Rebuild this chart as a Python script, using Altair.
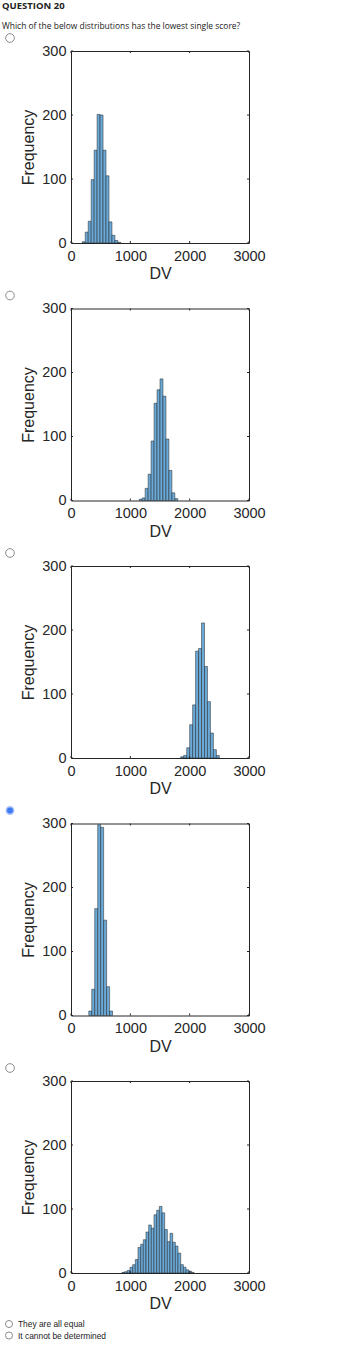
import altair as alt
import pandas as pd

# ---------------- data ----------------
QUESTION = "QUESTION 20"
PROMPT = "Which of the below distributions has the lowest single score?"
EXTRA_OPTIONS = ["They are all equal", "It cannot be determined"]
SELECTED = 3  # index of the chosen answer (4th histogram)

X_TICKS = [0, 1000, 2000, 3000]
Y_TICKS = [0, 100, 200, 300]

BIN_WIDTH = [50, 50, 50, 50, 45]
BIN_START = [190, 1150, 1850, 300, 859]
COUNTS = [
    [2, 17, 34, 99, 145, 201, 200, 145, 105, 33, 12, 4, 1],
    [2, 4, 19, 41, 93, 152, 173, 190, 163, 96, 47, 12, 3],
    [2, 4, 16, 52, 83, 167, 171, 211, 143, 88, 39, 13, 4],
    [7, 41, 167, 298, 294, 149, 45, 7],
    [1, 2, 4, 9, 13, 21, 40, 45, 52, 64, 75, 70, 91, 98, 104, 94, 68, 49, 62,
     48, 42, 31, 13, 9, 5, 3, 1],
]

# ---------------- style ----------------
W, H = 178, 192
AX = "#262626"
BAR = "#6BAAD8"
FONT = "Liberation Sans"

one = pd.DataFrame({"a": [0]})


def radio(x, y, selected=False, size=75):
    if selected:
        return alt.Chart(one).mark_circle(
            size=55, fill="#3f7bf2", stroke="#a9c2f9", strokeWidth=1.5, opacity=1
        ).encode(x=alt.value(x), y=alt.value(y))
    return alt.Chart(one).mark_circle(
        size=size, fill="white", stroke="#8c8c8c", strokeWidth=1, opacity=1
    ).encode(x=alt.value(x), y=alt.value(y))


def panel(i):
    w = BIN_WIDTH[i]
    s = BIN_START[i]
    df = pd.DataFrame({
        "x0": [s + k * w for k in range(len(COUNTS[i]))],
        "count": COUNTS[i],
    })
    df["x1"] = df["x0"] + w
    df["base"] = 0
    xs = alt.Scale(domain=[0, 3000], nice=False, zero=False)
    ys = alt.Scale(domain=[0, 300], nice=False)
    xaxis = alt.Axis(values=X_TICKS, title="DV", format="d", labelFlush=False)
    yaxis = alt.Axis(values=Y_TICKS, title="Frequency", format="d", labelFlush=False)
    bars = alt.Chart(df).mark_bar(
        fill=BAR, stroke="#202020", strokeWidth=0.5, opacity=1
    ).encode(
        x=alt.X("x0:Q", scale=xs, axis=xaxis),
        x2="x1:Q",
        y=alt.Y("count:Q", scale=ys, axis=yaxis),
        y2="base:Q",
    )
    xt = pd.DataFrame({"x0": X_TICKS})
    yt = pd.DataFrame({"count": Y_TICKS})
    tb = alt.Chart(xt).mark_rule(color=AX, strokeWidth=1).encode(
        x=alt.X("x0:Q", scale=xs, axis=xaxis), y=alt.value(H), y2=alt.value(H - 2))
    tt = alt.Chart(xt).mark_rule(color=AX, strokeWidth=1).encode(
        x=alt.X("x0:Q", scale=xs, axis=xaxis), y=alt.value(0), y2=alt.value(2))
    tl = alt.Chart(yt).mark_rule(color=AX, strokeWidth=1).encode(
        y=alt.Y("count:Q", scale=ys, axis=yaxis), x=alt.value(0), x2=alt.value(2))
    tr = alt.Chart(yt).mark_rule(color=AX, strokeWidth=1).encode(
        y=alt.Y("count:Q", scale=ys, axis=yaxis), x=alt.value(W), x2=alt.value(W - 2))
    layers = [bars, tb, tt, tl, tr, radio(-61, -13, selected=(i == SELECTED))]
    if i == 0:
        anchor = alt.Chart(one).mark_rect(opacity=0).encode(
            x=alt.value(-70), x2=alt.value(-69), y=alt.value(-49), y2=alt.value(-48))
        q = alt.Chart(pd.DataFrame({"t": [QUESTION]})).mark_text(
            align="left", baseline="middle", font="Open Sans", fontWeight="bold",
            fontSize=9.5, color="#222222"
        ).encode(text="t:N", x=alt.value(-69), y=alt.value(-45))
        p = alt.Chart(pd.DataFrame({"t": [PROMPT]})).mark_text(
            align="left", baseline="middle", font="Open Sans",
            fontSize=8.45, color="#222222"
        ).encode(text="t:N", x=alt.value(-69), y=alt.value(-25))
        layers = [anchor, q, p] + layers
    if i == len(COUNTS) - 1:
        for j, label in enumerate(EXTRA_OPTIONS):
            yy = 243 + j * 11.5
            layers.append(radio(-62, yy, size=50))
            layers.append(alt.Chart(pd.DataFrame({"t": [label]})).mark_text(
                align="left", baseline="middle", font=FONT, fontSize=8.4, color="#222222"
            ).encode(text="t:N", x=alt.value(-53), y=alt.value(yy)))
    return alt.layer(*layers).properties(width=W, height=H)


chart = alt.vconcat(*[panel(i) for i in range(len(COUNTS))], spacing=65.5, bounds="flush").properties(
    padding=0, background="white"
).configure_view(
    stroke=AX, strokeWidth=1
).configure_axis(
    grid=False, domain=False, ticks=False,
    labelFont=FONT, labelFontSize=14.5, labelColor=AX,
    titleFont=FONT, titleFontSize=16, titleFontWeight="normal", titleColor=AX,
).configure_axisY(
    labelPadding=5, titlePadding=5
).configure_axisX(
    labelPadding=6, titlePadding=3
)

chart.save("out.html", embed_options={"renderer": "svg", "actions": False})
